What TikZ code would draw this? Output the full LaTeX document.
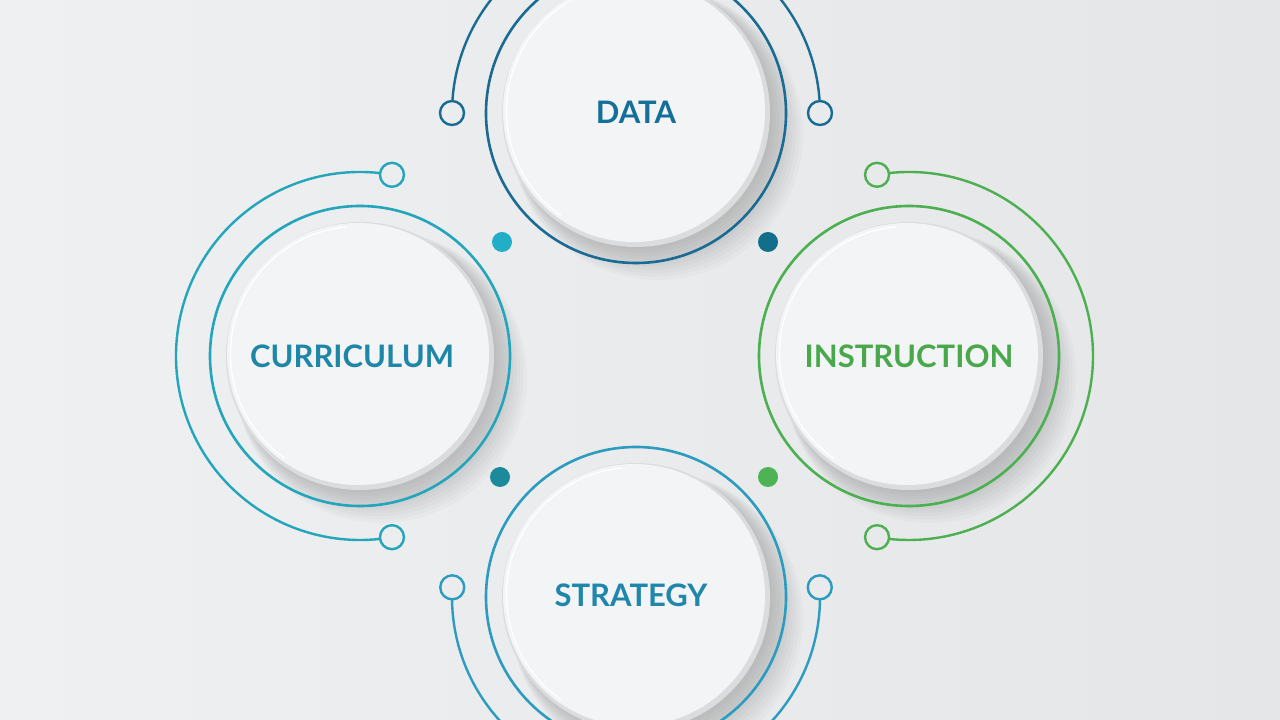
\documentclass[tikz,border=0pt]{standalone}
\usepackage{fontspec}
\setmainfont{Lato}
\definecolor{bgl}{HTML}{EFF0F1}
\definecolor{bgr}{HTML}{E4E6E7}
\definecolor{facec}{HTML}{F3F4F5}
\definecolor{edgec}{HTML}{DADCDD}
\definecolor{datac}{HTML}{1A6B93}
\definecolor{datat}{HTML}{14709A}
\definecolor{currc}{HTML}{23A5BC}
\definecolor{currt}{HTML}{1E87A8}
\definecolor{instc}{HTML}{4CAF50}
\definecolor{instt}{HTML}{49A84C}
\definecolor{stratc}{HTML}{2B9CC0}
\definecolor{stratt}{HTML}{1F86AC}
\definecolor{dotA}{HTML}{22AEC6}
\definecolor{dotB}{HTML}{136E8C}
\definecolor{dotC}{HTML}{1C8A9A}
\definecolor{dotD}{HTML}{4DB355}
\tikzset{
  disc/.style={circle, minimum size=268pt, inner sep=0pt},
  lbl/.style={inner sep=0pt, font=\fontsize{31}{31}\selectfont\bfseries},
  ringline/.style={line width=2.6pt},
  arcline/.style={line width=2.4pt},
  endc/.style={circle, draw, line width=2.4pt, minimum size=24pt, inner sep=0pt},
  dotn/.style={circle, minimum size=20pt, inner sep=0pt},
}
\newcommand\mydiscbody[2]{%
  \foreach \i in {1,...,10} {\fill[black,opacity=0.02] (#1+3+1.8*\i, #2-3-1.8*\i) circle (130+1.6*\i);}
  \fill[edgec] (#1,#2) circle (134);
  \fill[facec] (#1-2,#2+2) circle (131);
  \draw[white,line width=1.3pt] (#1-2,#2+2) ++(95:127.5) arc[start angle=95,end angle=235,radius=127.5];
}
\begin{document}
\begin{tikzpicture}[x=1pt,y=1pt]
\useasboundingbox (0,0) rectangle (1280,720);
\shade[left color=bgl, right color=bgr] (0,0) rectangle (1280,720);

% disc bodies
\mydiscbody{636}{607}
\mydiscbody{360}{364}
\mydiscbody{909}{364}
\mydiscbody{636}{123}

% nodes
\node[disc] (data)  at (636,607) {};
\node[disc] (curr)  at (360,364) {};
\node[disc] (inst)  at (909,364) {};
\node[disc] (strat) at (636,123) {};
\node[lbl, text=datat]  (tdata)  at (636,608) {DATA};
\node[lbl, text=currt]  (tcurr)  at (352,364) {CURRICULUM};
\node[lbl, text=instt]  (tinst)  at (909,364) {INSTRUCTION};
\node[lbl, text=stratt] (tstrat) at (631,125) {STRATEGY};

% rings
\draw[ringline, datac]  (data.center)  circle (150);
\draw[ringline, currc]  (curr.center)  circle (150);
\draw[ringline, instc]  (inst.center)  circle (150);
\draw[ringline, stratc] (strat.center) circle (150);

% outer arcs with end circles
\draw[arcline, datac] ([shift={(176:184)}]data.center) arc[start angle=176, end angle=4, radius=184];
\node[endc, draw=datac] (d1) at ([shift={(180:184)}]data.center) {};
\node[endc, draw=datac] (d2) at ([shift={(0:184)}]data.center) {};

\draw[arcline, currc] ([shift={(84:184)}]curr.center) arc[start angle=84, end angle=276, radius=184];
\node[endc, draw=currc] (c1) at ([shift={(80:184)}]curr.center) {};
\node[endc, draw=currc] (c2) at ([shift={(280:184)}]curr.center) {};

\draw[arcline, instc] ([shift={(96:184)}]inst.center) arc[start angle=96, end angle=-96, radius=184];
\node[endc, draw=instc] (i1) at ([shift={(100:184)}]inst.center) {};
\node[endc, draw=instc] (i2) at ([shift={(260:184)}]inst.center) {};

\draw[arcline, stratc] ([shift={(181:184)}]strat.center) arc[start angle=181, end angle=359, radius=184];
\node[endc, draw=stratc] (s1) at ([shift={(177:184)}]strat.center) {};
\node[endc, draw=stratc] (s2) at ([shift={(3:184)}]strat.center) {};

% dots
\node[dotn, fill=dotA] (p1) at (502,478) {};
\node[dotn, fill=dotB] (p2) at (768,478) {};
\node[dotn, fill=dotC] (p3) at (500,243) {};
\node[dotn, fill=dotD] (p4) at (768,243) {};
\end{tikzpicture}
\end{document}
